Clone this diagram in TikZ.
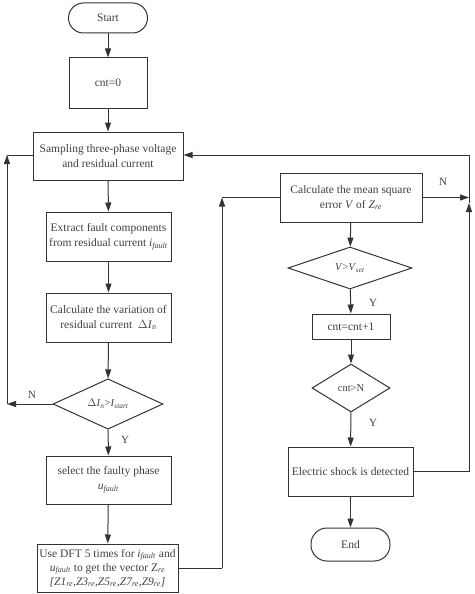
\documentclass[tikz,border=0pt]{standalone}
\usepackage{fontspec}
\setmainfont{Liberation Serif}
\usetikzlibrary{shapes.geometric,arrows.meta}
\newcommand\subi[1]{\textsubscript{\textit{#1}}}
\begin{document}
\begin{tikzpicture}[x=1pt,y=-1pt,
  box/.style={draw=black!80, line width=1pt, rectangle, inner sep=1pt, align=center,
    font=\fontsize{11.5}{15}\selectfont, text=black!75},
  term/.style={box, rounded corners=15pt},
  dia/.style={draw=black!80, line width=1pt, diamond, inner sep=0pt, align=center,
    font=\fontsize{10.5}{13}\selectfont, text=black!75},
  arr/.style={-{Triangle[length=9pt,width=6pt]}, line width=1pt, draw=black!80},
  ln/.style={line width=1pt, draw=black!80},
  lab/.style={font=\fontsize{11}{13}\selectfont, text=black!75}]
\useasboundingbox (0,0) rectangle (474,594);
\node[term, minimum width=79pt, minimum height=30pt] (start) at (108,18) {Start};
\node[box, minimum width=78pt, minimum height=50pt] (cnt0) at (108,83) {cnt=0};
\node[box, minimum width=150pt, minimum height=48pt] (samp) at (108,156) {Sampling three-phase voltage\\and residual current};
\node[box, minimum width=125pt, minimum height=49pt] (extr) at (108.5,236.5) {Extract fault components\\from residual current \textit{i}\subi{fault}};
\node[box, minimum width=125pt, minimum height=49pt] (cvar) at (108.5,317.5) {Calculate the variation of\\residual current\ \ $\Delta$\textit{I}\subi{n}};
\node[dia, minimum width=110pt, minimum height=48pt] (d1) at (108,404) {$\Delta$\textit{I}\subi{n}>\textit{I}\subi{start}};
\node[box, minimum width=125pt, minimum height=48pt] (sel) at (108.5,480) {select the faulty phase\\\textit{u}\subi{fault}};
\node[box, minimum width=141pt, minimum height=48pt, font=\fontsize{11.5}{14}\selectfont] (dft) at (107.5,568) {Use DFT 5 times for \textit{i}\subi{fault} and\\\textit{u}\subi{fault} to get the vector Z\subi{re}\\\textit{[Z1\subi{re},Z3\subi{re},Z5\subi{re},Z7\subi{re},Z9\subi{re}]}};
\node[box, minimum width=142pt, minimum height=49pt] (cmean) at (351,197.5) {Calculate the mean square\\error \textit{V} of \textit{Z}\subi{re}};
\node[dia, minimum width=124pt, minimum height=42pt] (d2) at (350,268) {\textit{V}>\textit{V}\subi{set}};
\node[box, minimum width=78pt, minimum height=25pt] (cnt1) at (351,326.5) {cnt=cnt+1};
\node[dia, minimum width=78pt, minimum height=48pt] (d3) at (351,388) {cnt>N};
\node[box, minimum width=125pt, minimum height=49pt] (shock) at (350.5,471.5) {Electric shock is detected};
\node[term, minimum width=79pt, minimum height=33pt, rounded corners=16pt] (end) at (350.5,544.5) {End};
\coordinate (L1) at (7,404);
\coordinate (L2) at (7,155);
\coordinate (M1) at (222,568);
\coordinate (M2) at (222,197.5);
\coordinate (R0) at (469,471.5);
\coordinate (R1) at (469,197.5);
\coordinate (R2) at (469,203);
\coordinate (R3) at (469,155);
\draw[arr] (start) -- (cnt0);
\draw[arr] (cnt0) -- (samp);
\draw[arr] (samp) -- (extr);
\draw[arr] (extr) -- (cvar);
\draw[arr] (cvar) -- (d1);
\draw[arr] (d1) -- (sel);
\draw[arr] (sel) -- (dft);
\draw[arr] (d1.west) -- (L1);
\draw[arr] (L1) -- (L2);
\draw[ln] (L2) -- (samp.west |- L2);
\draw[ln] (dft.east) -- (M1);
\draw[arr] (M1) -- (M2);
\draw[ln] (M2) -- (cmean.west);
\draw[arr] (cmean.east) -- (R1);
\draw[ln] (shock.east) -- (R0);
\draw[arr] (R0) -- (R2);
\draw[ln] (R2) -- (R3);
\draw[arr] (R3) -- (samp.east |- R3);
\draw[arr] (cmean) -- (d2);
\draw[arr] (d2) -- (cnt1);
\draw[arr] (cnt1) -- (d3);
\draw[arr] (d3) -- (shock);
\draw[arr] (shock) -- (end);
\node[lab] (n1) at (32,395) {N};
\node[lab] (y1) at (125,440) {Y};
\node[lab] (n2) at (443,182) {N};
\node[lab] (y2) at (373,303) {Y};
\node[lab] (y3) at (373,423) {Y};
\end{tikzpicture}
\end{document}
